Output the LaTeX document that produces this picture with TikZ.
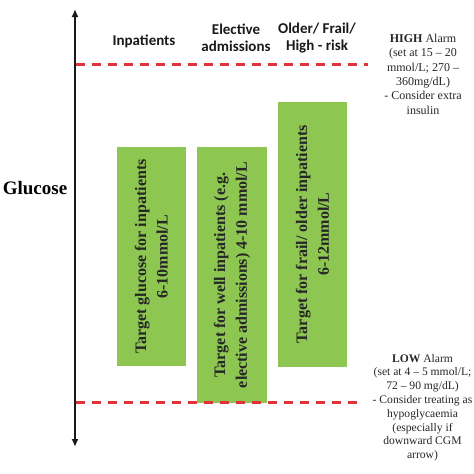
\documentclass[tikz,border=0pt]{standalone}
\usepackage{fontspec}
\setmainfont{Liberation Serif}
\newfontfamily\hdfont{Carlito}
\usepackage{xcolor}
\usepackage{tikz}
\usetikzlibrary{arrows.meta}

\definecolor{tgtgreen}{RGB}{141,198,80}
\definecolor{alarmred}{RGB}{226,50,60}

\tikzset{
  colhead/.style={font=\hdfont\bfseries\fontsize{15}{17.5}\selectfont, align=center, text=black!90},
  tgtbox/.style={fill=tgtgreen, rotate=90, align=center, inner sep=0pt,
    font=\bfseries\fontsize{16}{21.7}\selectfont, text=black!85},
  alarmnote/.style={align=center, font=\fontsize{12}{14.4}\selectfont, text=black!85},
  alarmline/.style={alarmred, line width=2.2pt, dash pattern=on 9pt off 7pt}
}

\begin{document}
\begin{tikzpicture}[x=1pt, y=-1pt]
\useasboundingbox (0,0) rectangle (474,474);
% axis
\coordinate (axtop) at (75,9);
\coordinate (axbot) at (75,447);
\draw[line width=2pt, black!90, {Latex[length=8pt,width=7pt]}-{Latex[length=8pt,width=7pt]}] (axbot) -- (axtop);
\node[font=\bfseries\fontsize{19}{22}\selectfont] (glucose) at (35,188) {Glucose};
% column heads
\node[colhead] (inpat) at (144,41) {Inpatients};
\node[colhead] (elect) at (236,38) {Elective\\admissions};
\node[colhead] (older) at (317,38) {Older/ Frail/\\High - risk};
% alarm levels
\coordinate (hiL) at (76,64.5);
\coordinate (hiR) at (368,64.5);
\coordinate (loL) at (76,402.5);
\coordinate (loR) at (358,402.5);
% target boxes
\node[tgtbox, minimum width=219pt, minimum height=69.3pt] (tgtA) at (151.3,256.7)
  {Target glucose for inpatients\\6-10mmol/L};
\node[tgtbox, minimum width=255.5pt, minimum height=69.3pt] (tgtB) at (232,275)
  {Target for well inpatients (e.g.\\elective admissions) 4-10 mmol/L};
\node[tgtbox, minimum width=265pt, minimum height=69.6pt] (tgtC) at (312.5,234.2)
  {Target for frail/ older inpatients\\6-12mmol/L};
\draw[alarmline] (hiL) -- (hiR);
\draw[alarmline] (loL) -- (loR);
% alarm notes
\node[alarmnote] (highnote) at (423,74.2)
  {\textbf{HIGH} Alarm\\(set at 15 -- 20\\mmol/L; 270 --\\360mg/dL)\\- Consider extra\\insulin};
\node[alarmnote, font=\fontsize{11.6}{13.8}\selectfont] (lownote) at (422.5,407.7)
  {\textbf{LOW} Alarm\\(set at 4 -- 5 mmol/L;\\72 -- 90 mg/dL)\\- Consider treating as\\hypoglycaemia\\(especially if\\downward CGM\\arrow)};
\end{tikzpicture}
\end{document}
